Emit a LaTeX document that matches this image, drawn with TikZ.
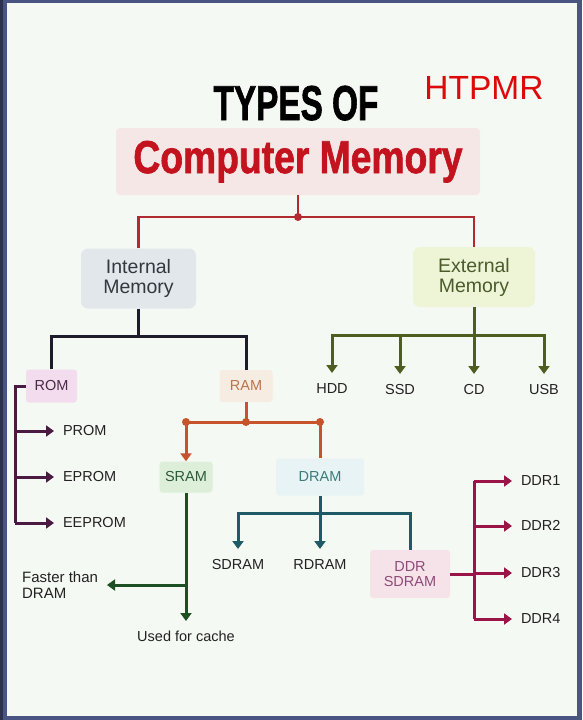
\documentclass[tikz,border=0pt]{standalone}
\usepackage{graphicx}
\usepackage{fontspec}
\setmainfont{Liberation Sans}
\newfontfamily\heavyfont[FakeBold=1.6]{Liberation Sans Bold}
\usetikzlibrary{arrows.meta}

\definecolor{framec}{HTML}{4A5482}
\definecolor{pagebg}{HTML}{F5F9F3}
\definecolor{titlered}{HTML}{C3131F}
\definecolor{titlebg}{HTML}{F6E7E7}
\definecolor{htred}{HTML}{DD0A0A}
\definecolor{redline}{HTML}{B02A2E}
\definecolor{intbg}{HTML}{E2E7EC}
\definecolor{inttxt}{HTML}{33383F}
\definecolor{extbg}{HTML}{EEF5D6}
\definecolor{exttxt}{HTML}{4B5B2B}
\definecolor{blackline}{HTML}{1C1C2A}
\definecolor{olive}{HTML}{4D5E1E}
\definecolor{rombg}{HTML}{F3DCEE}
\definecolor{romtxt}{HTML}{4B2A48}
\definecolor{rambg}{HTML}{F7ECE2}
\definecolor{ramtxt}{HTML}{B8754A}
\definecolor{orangeline}{HTML}{C6532A}
\definecolor{srambg}{HTML}{DDEFD9}
\definecolor{sramtxt}{HTML}{2D5A3A}
\definecolor{drambg}{HTML}{E7F3F5}
\definecolor{dramtxt}{HTML}{3E7A7A}
\definecolor{purpleline}{HTML}{4A1A42}
\definecolor{greenline}{HTML}{1E4F22}
\definecolor{tealline}{HTML}{1F5B66}
\definecolor{ddrbg}{HTML}{F6E3EA}
\definecolor{ddrtxt}{HTML}{8E4A78}
\definecolor{magline}{HTML}{9A1448}
\definecolor{txt}{HTML}{222222}

\begin{document}
\begin{tikzpicture}[x=1pt,y=-1pt,
  box/.style={inner sep=0pt, rounded corners=3pt, align=center,
    font=\fontsize{14.5}{16}\selectfont},
  lbl/.style={inner sep=0pt, outer sep=9pt, text height=11pt, text depth=3pt,
    font=\fontsize{14.5}{16}\selectfont, text=txt},
  link/.style={line width=3pt},
  tip/.style={-{Triangle[length=8pt,width=11pt]}},
  dot/.style={radius=4pt}]
  \useasboundingbox (0,0) rectangle (582,720);
  % frame and page
  \fill[framec] (0,0) rectangle (582,720);
  \fill[framec!60!black] (0,0) rectangle (3,720);
  \fill[pagebg] (7,3) rectangle (577,716);

  % title
  \node[fill=titlebg, rounded corners=4pt, minimum width=364pt, minimum height=67pt] (titlebox) at (298,161.5) {};
  \node[anchor=base, text=black] (types) at (296,120)
    {\scalebox{0.68}[1]{\fontsize{49}{49}\selectfont\heavyfont TYPES OF}};
  \node[anchor=base, text=titlered] (comp) at (298,173)
    {\scalebox{0.81}[1]{\fontsize{46}{46}\selectfont\heavyfont Computer Memory}};
  \node[anchor=base, text=htred, font=\fontsize{33.5}{34}\selectfont] (mark) at (484,99) {HTPMR};

  % boxes
  \node[box, fill=intbg, text=inttxt, rounded corners=7pt, minimum width=115pt, minimum height=60pt,
    font=\fontsize{19.5}{20}\selectfont] (intm) at (138.5,278.5) {Internal\\Memory};
  \node[box, fill=extbg, text=exttxt, rounded corners=7pt, minimum width=122pt, minimum height=60pt,
    font=\fontsize{19.5}{20}\selectfont] (extm) at (474,277) {External\\Memory};
  \node[box, fill=rombg, text=romtxt, minimum width=51pt, minimum height=33pt] (rom) at (51.5,386) {ROM};
  \node[box, fill=rambg, text=ramtxt, minimum width=53pt, minimum height=32pt] (ram) at (246,386) {RAM};
  \node[box, fill=srambg, text=sramtxt, minimum width=53pt, minimum height=31pt] (sram) at (186,477) {SRAM};
  \node[box, fill=drambg, text=dramtxt, minimum width=88pt, minimum height=37pt] (dram) at (320,477) {DRAM};
  \node[box, fill=ddrbg, text=ddrtxt, minimum width=80pt, minimum height=48pt,
    font=\fontsize{14.5}{15}\selectfont] (ddr) at (410,574) {DDR\\SDRAM};

  % labels
  \node[lbl] (hdd) at (332,389) {HDD};
  \node[lbl] (ssd) at (400,390) {SSD};
  \node[lbl] (cd) at (474,390) {CD};
  \node[lbl] (usb) at (544,390) {USB};
  \node[lbl, anchor=west] (prom) at (54,431) {PROM};
  \node[lbl, anchor=west] (eprom) at (54,477) {EPROM};
  \node[lbl, anchor=west] (eeprom) at (54,523) {EEPROM};
  \node[lbl] (sdram) at (238,565) {SDRAM};
  \node[lbl] (rdram) at (320,565) {RDRAM};
  \node[lbl] (cache) at (186,637) {Used for cache};
  \node[inner sep=0pt, outer sep=9pt, align=left, text=txt, anchor=east,
    font=\fontsize{15}{15.5}\selectfont] (faster) at (107,585) {Faster than\\DRAM};
  \node[lbl, anchor=west] (ddr1) at (512,481) {DDR1};
  \node[lbl, anchor=west] (ddr2) at (512,526) {DDR2};
  \node[lbl, anchor=west] (ddr3) at (512,573) {DDR3};
  \node[lbl, anchor=west] (ddr4) at (512,619) {DDR4};

  % junctions
  \coordinate (tj) at (298,217);
  \coordinate (ij) at (138.5,336);
  \coordinate (ej) at (474,335);
  \coordinate (oj) at (246,422);
  \coordinate (rj) at (15,523);
  \coordinate (dj) at (320,513);
  \coordinate (mj) at (474,574);

  % red
  \draw[link, redline, line width=2.4pt] (titlebox.south) -- (tj);
  \draw[link, redline, line width=2.4pt] (intm.north) |- (tj) -| (extm.north);
  \fill[redline] (tj) circle[dot];

  % internal
  \draw[link, blackline] (intm.south) -- (ij);
  \draw[link, blackline] (rom.north) |- (ij) -| (ram.north);

  % external
  \draw[link, olive, tip] (extm.south) -- (cd);
  \draw[link, olive, tip] (ej) -| (hdd);
  \draw[link, olive, tip] (ej) -| (ssd);
  \draw[link, olive, tip] (ej) -| (usb);

  % rom
  \draw[link, purpleline] (rom.west) -| (rj);
  \foreach \n in {prom,eprom,eeprom}
    \draw[link, purpleline, tip] (rj |- \n.west) -- (\n.west);

  % ram
  \draw[link, orangeline] (ram.south) -- (oj);
  \draw[link, orangeline, tip] (oj) -| (sram.north);
  \draw[link, orangeline] (oj) -| (dram.north);
  \foreach \p in {sram,ram,dram}
    \fill[orangeline] (\p.north |- oj) circle[dot];

  % sram
  \draw[link, greenline, tip] (sram.south) -- (cache);
  \draw[link, greenline, tip] (sram.south |- faster.east) -- (faster.east);

  % dram
  \draw[link, tealline, tip] (dram.south) -- (rdram);
  \draw[link, tealline, tip] (dj) -| (sdram);
  \draw[link, tealline] (dj) -| (ddr.north);

  % ddr
  \draw[link, magline] (ddr.east) -- (mj);
  \draw[link, magline] (mj |- ddr1.west) -- (mj |- ddr4.west);
  \foreach \n in {ddr1,ddr2,ddr3,ddr4}
    \draw[link, magline, tip] (mj |- \n.west) -- (\n.west);
\end{tikzpicture}
\end{document}
